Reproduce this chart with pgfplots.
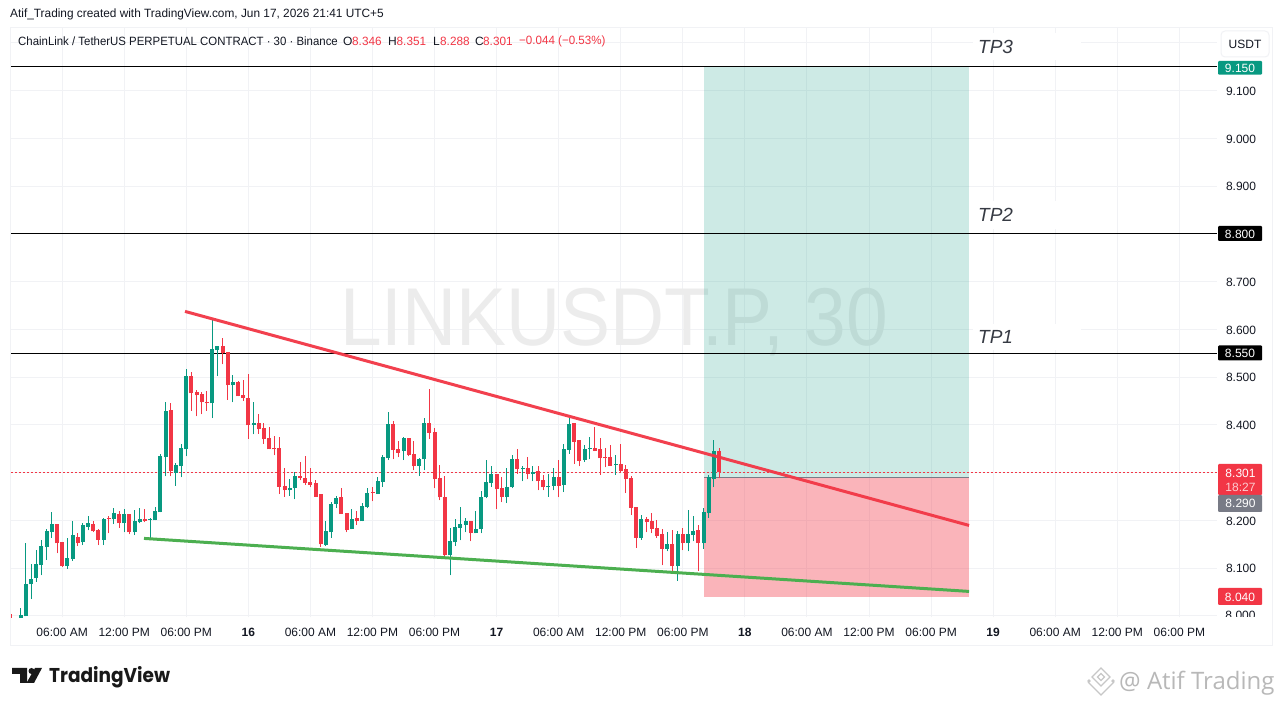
\documentclass[border=0pt]{standalone}
\usepackage{pgfplots}
\usepackage{pgfplotstable}
\usepackage{fontspec}
\pgfplotsset{compat=1.18}
\setmainfont{Liberation Sans}
\newfontfamily\tvfont{Poppins}
\newfontfamily\wmfont{Open Sans}
\newcommand\fs[1]{\fontsize{#1}{#1}\selectfont}
\definecolor{tvgreen}{HTML}{089981}
\definecolor{tvred}{HTML}{F23645}
\definecolor{tvtext}{HTML}{131722}
\definecolor{tvgrid}{HTML}{F1F2F5}
\definecolor{tvgray}{HTML}{787B86}
\definecolor{tvline}{HTML}{4CAF50}
\pgfplotstableread{
i bot top lo hi
0 7.990 8.001 7.980 8.017
1 7.999 8.066 7.999 8.153
2 8.066 8.078 8.035 8.108
3 8.079 8.108 8.072 8.137
4 8.106 8.146 8.085 8.158
5 8.144 8.177 8.118 8.181
6 8.175 8.192 8.164 8.217
9 8.104 8.122 8.099 8.164
10 8.120 8.169 8.116 8.198
12 8.154 8.190 8.148 8.194
13 8.187 8.194 8.179 8.210
16 8.160 8.204 8.148 8.206
18 8.202 8.215 8.192 8.225
20 8.194 8.213 8.175 8.223
22 8.175 8.198 8.169 8.221
23 8.196 8.204 8.194 8.225
25 8.201 8.203 8.158 8.206
26 8.200 8.219 8.200 8.229
27 8.217 8.334 8.217 8.340
28 8.332 8.430 8.292 8.449
30 8.300 8.317 8.273 8.321
31 8.313 8.351 8.290 8.359
32 8.349 8.502 8.334 8.518
37 8.445 8.558 8.414 8.619
38 8.556 8.566 8.502 8.566
41 8.483 8.489 8.447 8.504
45 8.400 8.405 8.380 8.449
52 8.263 8.267 8.252 8.286
53 8.267 8.294 8.244 8.301
59 8.148 8.177 8.146 8.198
60 8.175 8.234 8.164 8.238
61 8.234 8.246 8.227 8.252
64 8.181 8.204 8.181 8.223
66 8.198 8.231 8.198 8.236
67 8.229 8.257 8.225 8.267
69 8.255 8.282 8.255 8.290
70 8.280 8.332 8.271 8.338
71 8.330 8.401 8.326 8.428
74 8.345 8.372 8.326 8.374
77 8.315 8.328 8.294 8.330
78 8.328 8.403 8.305 8.414
83 8.127 8.156 8.085 8.185
84 8.154 8.187 8.146 8.202
85 8.185 8.192 8.158 8.229
86 8.190 8.198 8.175 8.206
88 8.173 8.183 8.173 8.219
89 8.181 8.250 8.173 8.261
90 8.248 8.280 8.246 8.326
91 8.278 8.298 8.271 8.313
94 8.250 8.269 8.236 8.309
95 8.269 8.328 8.267 8.338
97 8.307 8.309 8.282 8.313
99 8.298 8.301 8.282 8.315
102 8.269 8.273 8.250 8.298
103 8.273 8.290 8.263 8.309
105 8.275 8.349 8.259 8.359
106 8.347 8.401 8.340 8.414
109 8.326 8.349 8.322 8.357
110 8.349 8.351 8.328 8.374
115 8.317 8.319 8.296 8.338
120 8.164 8.202 8.160 8.211
125 8.141 8.150 8.135 8.175
127 8.104 8.171 8.074 8.177
129 8.152 8.171 8.135 8.221
130 8.169 8.177 8.156 8.210
132 8.152 8.217 8.141 8.225
133 8.215 8.290 8.206 8.296
134 8.286 8.345 8.269 8.368
}\greencandles
\pgfplotstableread{
i bot top lo hi
-2 7.990 8.004 7.980 8.004
7 8.152 8.192 8.131 8.193
8 8.104 8.154 8.102 8.155
11 8.152 8.166 8.146 8.173
14 8.177 8.192 8.175 8.198
15 8.160 8.179 8.148 8.183
17 8.203 8.205 8.173 8.210
19 8.194 8.213 8.185 8.219
21 8.175 8.213 8.171 8.213
24 8.198 8.204 8.196 8.223
29 8.303 8.432 8.292 8.445
33 8.466 8.502 8.430 8.510
34 8.462 8.468 8.418 8.474
35 8.447 8.464 8.422 8.468
36 8.445 8.449 8.430 8.470
39 8.550 8.566 8.527 8.581
40 8.483 8.552 8.453 8.552
42 8.460 8.489 8.460 8.491
43 8.456 8.462 8.451 8.495
44 8.399 8.456 8.370 8.506
46 8.391 8.405 8.382 8.422
47 8.370 8.393 8.361 8.403
48 8.349 8.372 8.349 8.395
49 8.349 8.351 8.336 8.376
50 8.271 8.351 8.255 8.374
51 8.263 8.273 8.250 8.309
54 8.288 8.294 8.284 8.322
55 8.278 8.288 8.275 8.334
56 8.275 8.280 8.269 8.309
57 8.250 8.278 8.250 8.284
58 8.150 8.255 8.144 8.255
62 8.213 8.248 8.213 8.267
63 8.179 8.215 8.175 8.215
65 8.198 8.206 8.190 8.219
68 8.257 8.259 8.240 8.271
72 8.347 8.401 8.328 8.409
73 8.342 8.349 8.332 8.366
75 8.338 8.372 8.334 8.372
76 8.313 8.340 8.305 8.366
79 8.384 8.403 8.370 8.476
80 8.286 8.386 8.267 8.393
81 8.248 8.288 8.242 8.317
82 8.127 8.250 8.125 8.292
87 8.173 8.198 8.156 8.198
92 8.265 8.298 8.223 8.298
93 8.250 8.267 8.238 8.290
96 8.307 8.328 8.298 8.349
98 8.298 8.309 8.286 8.332
100 8.282 8.303 8.263 8.315
101 8.269 8.284 8.263 8.296
104 8.273 8.290 8.248 8.326
107 8.365 8.403 8.319 8.405
108 8.324 8.368 8.313 8.368
111 8.345 8.351 8.345 8.395
112 8.330 8.349 8.296 8.372
113 8.330 8.332 8.311 8.351
114 8.315 8.332 8.315 8.357
116 8.303 8.319 8.301 8.361
117 8.286 8.307 8.257 8.317
118 8.227 8.288 8.211 8.294
119 8.164 8.229 8.143 8.229
121 8.196 8.202 8.175 8.208
122 8.183 8.198 8.173 8.215
123 8.167 8.185 8.164 8.200
124 8.141 8.171 8.106 8.181
126 8.104 8.150 8.093 8.179
128 8.152 8.171 8.137 8.185
131 8.152 8.179 8.095 8.190
135 8.301 8.346 8.288 8.351
}\redcandles
\newcommand\candles[2]{%
  \addplot[forget plot,draw=none,no markers,error bars/.cd,y dir=plus,y explicit,error mark=none,
    error bar style={draw=#2,line width=1pt}] table[x=i,y=lo,y error expr=\thisrow{hi}-\thisrow{lo}] {#1};
  \addplot[forget plot,draw=none,no markers,error bars/.cd,y dir=plus,y explicit,error mark=none,
    error bar style={draw=#2,line width=4pt}] table[x=i,y=bot,y error expr=\thisrow{top}-\thisrow{bot}] {#1};
}
\newcommand\pricebox[4]{% y-centre, half height, fill, text
  \fill[#3,rounded corners=1pt] (1218,#1-#2) rectangle (1262,#1+#2);
  \node[text=white,font=\fs{12}] at (1240,#1+0.5) {#4};}
\begin{document}
\begin{tikzpicture}
\useasboundingbox (0pt,0pt) rectangle (1283pt,706pt);
\fill[white] (0pt,0pt) rectangle (1283pt,706pt);
\begin{axis}[
  at={(11pt,88.6pt)},anchor=south west,
  width=1206pt,height=589pt,scale only axis,
  xmin=-1.895,xmax=231.28,ymin=7.9969,ymax=9.2304,
  axis line style={draw=none},tick style={draw=none},
  major tick length=0pt,
  grid=major,grid style={draw=tvgrid,line width=1pt},
  xtick={8,20,32,44,56,68,80,92,104,116,128,140,152,164,176,188,200,212,224},
  xticklabels={06:00 AM,12:00 PM,06:00 PM,\textbf{16},06:00 AM,12:00 PM,06:00 PM,\textbf{17},06:00 AM,12:00 PM,06:00 PM,\textbf{18},06:00 AM,12:00 PM,06:00 PM,\textbf{19},06:00 AM,12:00 PM,06:00 PM},
  ytick={8,8.1,8.2,8.3,8.4,8.5,8.6,8.7,8.8,8.9,9.0,9.1,9.2},
  yticklabels={{},8.100,8.200,{},8.400,8.500,8.600,8.700,{},8.900,9.000,9.100,{}},
  ymajorticks=true,yticklabel pos=right,
  xticklabel style={font=\fs{12},text=tvtext,anchor=center,yshift=-14.6pt},
  yticklabel style={font=\fs{12},text=tvtext,anchor=center,xshift=24pt,yshift=-0.5pt},
  clip=true,
]
\node[text=black!7.5,font=\fs{82}] at (axis cs:114.7,8.6147) {\scalebox{0.913}[1]{LINKUSDT.P, 30}};
\addplot[forget plot,draw=none,fill=tvgreen,fill opacity=0.2] coordinates {(132.1,9.15)(183.34,9.15)(183.34,8.29)(132.1,8.29)} --cycle;
\addplot[forget plot,draw=none,fill=tvred,fill opacity=0.37] coordinates {(132.1,8.29)(183.34,8.29)(183.34,8.04)(132.1,8.04)} --cycle;
\addplot[forget plot,draw=tvgray,line width=1pt] coordinates {(132.1,8.29)(183.34,8.29)};
\addplot[forget plot,draw=black,line width=1pt] coordinates {(-1.895,9.15)(231.28,9.15)};
\addplot[forget plot,draw=black,line width=1pt] coordinates {(-1.895,8.8)(231.28,8.8)};
\addplot[forget plot,draw=black,line width=1pt] coordinates {(-1.895,8.55)(231.28,8.55)};
\addplot[forget plot,draw=tvred,line width=1.2pt,dash pattern=on 1.5pt off 2.5pt] coordinates {(-1.895,8.301)(231.28,8.301)};
\candles{\greencandles}{tvgreen}
\candles{\redcandles}{tvred}
\addplot[forget plot,draw=tvred,line width=3pt,opacity=0.95] coordinates {(31.75,8.6377)(183.34,8.1895)};
\addplot[forget plot,draw=tvline,line width=3pt] coordinates {(23.82,8.1623)(183.34,8.0513)};
\end{axis}
\begin{scope}[shift={(0pt,706pt)},x=1pt,y=-1pt]
  % panel
  \draw[tvgrid,line width=1.5pt] (10.5,27.5) rectangle (1272.5,645.5);
  % TP notes
  \fill[white] (973,33) rectangle (1081,60);
  \fill[white] (973,201) rectangle (1081,229);
  \fill[white] (973,324) rectangle (1081,350);
  \node[anchor=west,inner sep=0pt,text=tvtext!85,font=\fs{19}\itshape] at (978,46.5) {TP3};
  \node[anchor=west,inner sep=0pt,text=tvtext!85,font=\fs{19}\itshape] at (978,214.5) {TP2};
  \node[anchor=west,inner sep=0pt,text=tvtext!85,font=\fs{19}\itshape] at (978,336.5) {TP1};
  % header
  \node[anchor=west,inner sep=0pt,text=tvtext,font=\fs{12}] at (10,14.5) {\scalebox{0.988}[1]{Atif\_Trading created with TradingView.com, Jun 17, 2026 21:41 UTC+5}};
  \node[anchor=west,inner sep=0pt,text=tvtext,font=\fs{12}] at (18,41.5) {\scalebox{0.951}[1]{ChainLink / TetherUS PERPETUAL CONTRACT · 30 · Binance}};
  \node[anchor=west,inner sep=0pt,text=tvtext,font=\fs{12}] at (343,41.5) {O};
  \node[anchor=west,inner sep=0pt,text=tvred,font=\fs{12}] at (352,41.5) {\scalebox{0.98}[1]{8.346}};
  \node[anchor=west,inner sep=0pt,text=tvtext,font=\fs{12}] at (388,41.5) {H};
  \node[anchor=west,inner sep=0pt,text=tvred,font=\fs{12}] at (396.5,41.5) {\scalebox{0.98}[1]{8.351}};
  \node[anchor=west,inner sep=0pt,text=tvtext,font=\fs{12}] at (433,41.5) {L};
  \node[anchor=west,inner sep=0pt,text=tvred,font=\fs{12}] at (440,41.5) {\scalebox{0.98}[1]{8.288}};
  \node[anchor=west,inner sep=0pt,text=tvtext,font=\fs{12}] at (475,41.5) {C};
  \node[anchor=west,inner sep=0pt,text=tvred,font=\fs{12}] at (483,41.5) {\scalebox{0.98}[1]{8.301}};
  \node[anchor=west,inner sep=0pt,text=tvred,font=\fs{12}] at (519,41.5) {\scalebox{0.965}[1]{−0.044 (−0.53\%)}};
  % USDT
  \draw[tvgrid,fill=white,line width=1pt,rounded corners=4pt] (1221,31) rectangle (1269,57);
  \node[text=tvtext,font=\fs{12}] at (1245,44.5) {USDT};
  % price labels
  \pricebox{67.8}{6.8}{tvgreen}{9.150}
  \pricebox{233.5}{7.5}{black}{8.800}
  \pricebox{353}{7.5}{black}{8.550}
  \fill[tvred,rounded corners=1pt] (1218,464) rectangle (1262,495);
  \node[text=white,font=\fs{12}] at (1240.5,473) {8.301};
  \node[text=white!75!tvred,font=\fs{12}] at (1240.5,487) {18:27};
  \fill[tvgray,rounded corners=1pt] (1218,495) rectangle (1262,512);
  \node[text=white,font=\fs{12}] at (1240.5,503.5) {8.290};
  \pricebox{596.5}{8.5}{tvred}{8.040}
  \begin{scope}
    \clip (1218,605) rectangle (1262,617);
    \node[text=tvtext,font=\fs{12}] at (1240.5,615.7) {8.000};
  \end{scope}
  % logo
  \fill[black!90] (12,668) -- (27,668) -- (27,683) -- (20,683) -- (20,674) -- (12,674) -- cycle;
  \fill[black!90] (31.5,671) circle (3);
  \fill[black!90] (35,668) -- (42,668) -- (34,683) -- (26.5,683) -- cycle;
  \node[anchor=west,inner sep=0pt,text=black!90,font=\tvfont\fs{20}\bfseries] at (49,677.5) {\scalebox{0.925}[1]{TradingView}};
  % watermark
  \begin{scope}[draw=black!22,line width=1.3pt]
    \draw (1101,668) -- (1110,677) -- (1101,686) -- (1092,677) -- cycle;
    \draw (1101,673.5) -- (1104.5,677) -- (1101,680.5) -- (1097.5,677) -- cycle;
    \draw (1088,682) -- (1101,695) -- (1114,682);
    \draw (1089,681) circle (1);
    \draw (1113,681) circle (1);
  \end{scope}
  \node[anchor=west,inner sep=0pt,text=black!28,font=\wmfont\fs{24}] at (1119,683) {@ Atif Trading};
\end{scope}
\end{tikzpicture}
\end{document}
